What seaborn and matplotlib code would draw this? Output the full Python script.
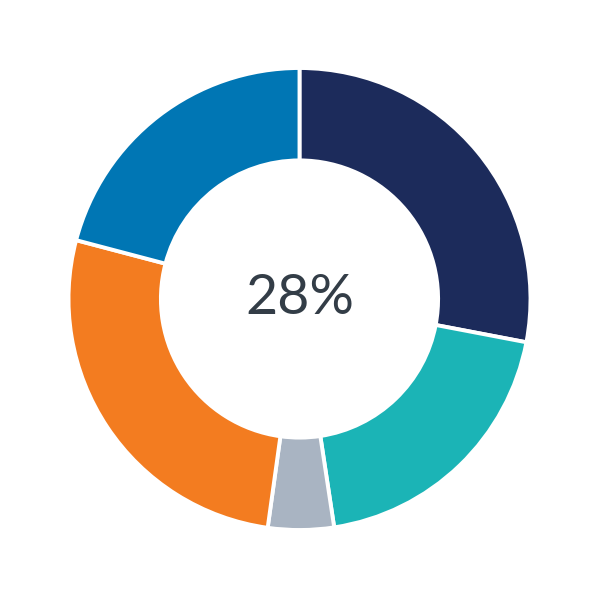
import matplotlib
matplotlib.use("Agg")
import matplotlib.pyplot as plt
import seaborn as sns

categories = ["Navy", "Teal", "Gray", "Orange", "Blue"]
values = [28, 19.6, 4.6, 26.9, 20.9]
colors_hex = ["#1c2b5b", "#1bb4b6", "#a9b4c2", "#f37c20", "#0076b4"]
center_label = "28%"

sns.set_theme(style="white")
plt.rcParams['font.family'] = ['Lato', 'DejaVu Sans']
palette = sns.color_palette(colors_hex)

fig = plt.figure(figsize=(6, 6), dpi=100)
ax = fig.add_axes([0, 0, 1, 1])
ax.pie(values, colors=palette, startangle=90, counterclock=False,
       radius=1.0,
       wedgeprops=dict(width=0.4, edgecolor="white", linewidth=2.8))
s = 231.0
ax.set_xlim(-299.5 / s, 300.5 / s)
ax.set_ylim(-301 / s, 299 / s)
ax.set_aspect("equal")
ax.axis("off")
ax.text(0, 0, center_label, ha="center", va="center", fontsize=40,
        fontweight="normal", color="#333d47")
fig.savefig("out.png", dpi=100)
